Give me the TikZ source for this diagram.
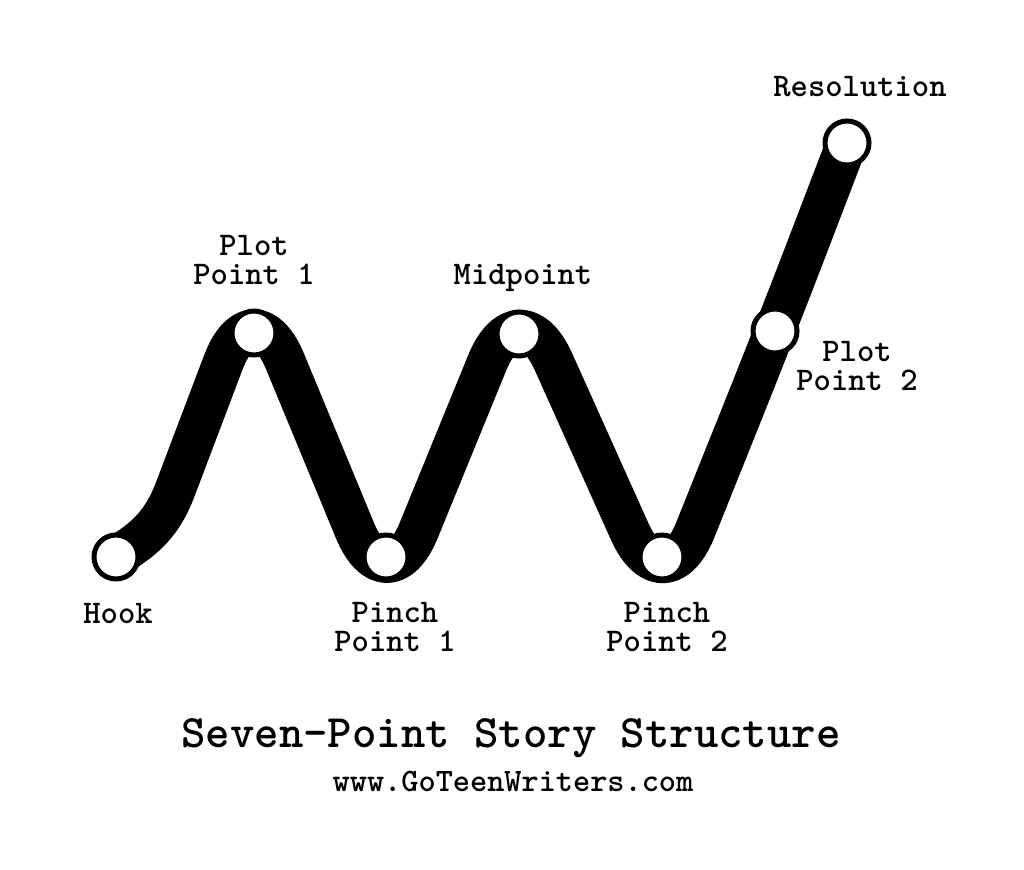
\documentclass[tikz,border=0pt]{standalone}
\usetikzlibrary{backgrounds}
\begin{document}
\begin{tikzpicture}[x=1pt,y=-1pt,
  pt/.style={circle,draw=black,fill=white,line width=5pt,minimum size=44pt,inner sep=0pt},
  band/.style={line width=41pt,black,line cap=butt,line join=round},
  lbl/.style={font=\fontsize{33}{28.5}\selectfont\ttfamily\bfseries,align=center,inner sep=0pt,text=black},
  ttl/.style={font=\fontsize{46.5}{50}\selectfont\ttfamily\bfseries,inner sep=0pt,text=black},
  url/.style={font=\fontsize{32.7}{36}\selectfont\ttfamily\bfseries,inner sep=0pt,text=black}]
\useasboundingbox (0,0) rectangle (1024,869);
% points
\node[pt] (hook)   at (116,557) {};
\node[pt] (pp1)    at (254,333) {};
\node[pt] (pinch1) at (386,557) {};
\node[pt] (mid)    at (519,334) {};
\node[pt] (pinch2) at (662,557) {};
\node[pt] (pp2)    at (775,331) {};
\node[pt] (res)    at (847,143) {};
% corner points of the band's centre line
\coordinate (s0) at (175,490);
\coordinate (v1) at (253,284);
\coordinate (v2) at (387,608);
\coordinate (v3) at (519,285);
\coordinate (v4) at (664,608);
\begin{pgfonlayer}{background}
  \fill[white] (0,0) rectangle (1024,869);
  \draw[band] (hook.center) .. controls +(24,-16) and +(-15,39) .. (s0)
    [rounded corners=84pt] -- (v1) -- (v2) -- (v3) -- (v4) -- (pp2.center) -- (res.center);
\end{pgfonlayer}
% labels
\node[lbl,anchor=base] (lhook) at (118,623) {Hook};
\node[lbl] (lpp1) at (254,260) {Plot\\Point 1};
\node[lbl] (lpinch1) at (395,627) {Pinch\\Point 1};
\node[lbl,anchor=base] (lmid) at (523,284) {Midpoint};
\node[lbl] (lpinch2) at (667,627) {Pinch\\Point 2};
\node[lbl] (lpp2) at (857,366) {Plot\\Point 2};
\node[lbl,anchor=base] (lres) at (860,97) {Resolution};
\node[ttl,anchor=base] (title) at (511,747) {Seven-Point Story Structure};
\node[url,anchor=base] (site) at (513,791) {www.GoTeenWriters.com};
\end{tikzpicture}
\end{document}
